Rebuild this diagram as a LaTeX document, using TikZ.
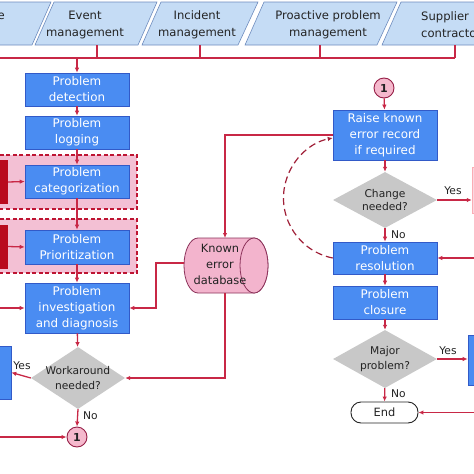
\documentclass[tikz,border=0pt]{standalone}
\usepackage{fontspec}
\setmainfont{DejaVu Sans}
\usetikzlibrary{shapes.geometric,arrows.meta}
\definecolor{linered}{RGB}{200,40,70}
\definecolor{boxblue}{RGB}{74,140,242}
\definecolor{boxedge}{RGB}{50,90,200}
\definecolor{parafill}{RGB}{197,220,245}
\definecolor{paraedge}{RGB}{110,140,190}
\definecolor{zonefill}{RGB}{243,192,212}
\definecolor{zoneedge}{RGB}{190,20,50}
\definecolor{circfill}{RGB}{245,185,205}
\definecolor{circedge}{RGB}{150,30,70}
\definecolor{dbfill}{RGB}{243,180,205}
\definecolor{dbedge}{RGB}{140,50,90}
\definecolor{decgrey}{RGB}{200,200,200}
\definecolor{barred}{RGB}{185,10,30}
\definecolor{lightpink}{RGB}{250,215,225}
\definecolor{darktext}{RGB}{35,35,35}
\begin{document}
\begin{tikzpicture}[x=1pt,y=-1pt,
  conn/.style={draw=linered, line width=1.3pt},
  arr/.style={conn, -{Latex[length=5pt,width=4.5pt]}},
  proc/.style={rectangle, fill=boxblue, draw=boxedge, line width=0.6pt, text=white, align=center, minimum width=104pt, inner sep=0pt, font=\fontsize{11.9}{16}\selectfont},
  para/.style={fill=parafill, draw=paraedge, line width=0.6pt},
  ptext/.style={align=center, text=darktext, inner sep=0pt, font=\fontsize{11.6}{17}\selectfont},
  dec/.style={diamond, fill=decgrey, inner sep=0pt},
  dtext/.style={align=center, text=darktext, inner sep=0pt, font=\fontsize{10.7}{15}\selectfont},
  lab/.style={text=darktext, inner sep=0pt, font=\fontsize{10.7}{12}\selectfont},
  conncirc/.style={circle, fill=circfill, draw=circedge, line width=0.9pt, minimum size=20pt, inner sep=0pt, text=darktext, font=\fontsize{11}{12}\selectfont\bfseries},
  zone/.style={fill=zonefill, draw=zoneedge, line width=1.2pt, dash pattern=on 4pt off 2.5pt},
  bar/.style={rectangle, fill=barred, draw=none, minimum width=10pt, minimum height=44pt, inner sep=0pt},
  termbox/.style={rectangle, rounded corners=10pt, fill=white, draw=darktext, line width=0.9pt, minimum width=67pt, minimum height=21pt, inner sep=0pt, text=darktext, font=\fontsize{11.4}{12}\selectfont},
  dbshape/.style={fill=dbfill, draw=dbedge, line width=0.8pt}
]
\useasboundingbox (0,0) rectangle (474,474);
\clip (0,0) rectangle (474,474);

% top inputs
\draw[para] (-100,45) -- (32,45) -- (51,2) -- (-80,2) -- cycle;
\node[ptext, anchor=east] (p0) at (5,16) {e};
\draw[para] (35,45) -- (138,45) -- (157,2) -- (54,2) -- cycle;
\node[ptext] (p1) at (85,24.5) {Event\\management};
\draw[para] (142,45) -- (238,45) -- (258,2) -- (161,2) -- cycle;
\node[ptext] (p2) at (197,24.5) {Incident\\management};
\draw[para] (245,45) -- (377,45) -- (397,2) -- (264,2) -- cycle;
\node[ptext] (p3) at (328,24.5) {Proactive problem\\management};
\draw[para] (382,45) -- (540,45) -- (560,2) -- (401,2) -- cycle;
\node[ptext, align=left, anchor=west] (p4) at (421,24.5) {Supplier\\contractors};

\coordinate (b1) at (97,45);  \coordinate (j1) at (97,58);
\coordinate (b2) at (200,45); \coordinate (j2) at (200,58);
\coordinate (b3) at (320,45); \coordinate (j3) at (320,58);
\coordinate (b4) at (455,45); \coordinate (j4) at (455,58);
\coordinate (j0) at (0,58);
\coordinate (jd) at (77,58);
\draw[conn] (j0) -- (j4);
\draw[conn] (b1) -- (j1);
\draw[conn] (b2) -- (j2);
\draw[conn] (b3) -- (j3);
\draw[conn] (b4) -- (j4);

% zones
\draw[zone] (-5,155) rectangle (137,209);
\draw[zone] (-5,219) rectangle (137,273);
\node[bar] (bar1) at (3,182) {};
\node[bar] (bar2) at (3,246.5) {};

% left column
\node[proc, minimum height=33pt] (det) at (77,89.5) {Problem\\detection};
\node[proc, minimum height=33pt] (log) at (77,132.5) {Problem\\logging};
\node[proc, minimum height=33pt] (cat) at (77,181.5) {Problem\\categorization};
\node[proc, minimum height=34pt] (pri) at (77,247) {Problem\\Prioritization};
\node[proc, minimum height=50pt] (inv) at (77,308) {Problem\\investigation\\and diagnosis};
\node[dec, minimum width=94pt, minimum height=62pt] (wa) at (78,378) {};
\node[dtext] (wat) at (wa) {Workaround\\needed?};
\node[proc, minimum width=16pt, minimum height=53pt] (wbox) at (3,372.5) {};
\node[conncirc] (c1) at (77,437) {1};

\draw[arr] (jd) -- (det.north);
\draw[arr] (det) -- (log);
\draw[arr] (log) -- (cat);
\draw[arr] (cat) -- (pri);
\draw[arr] (pri) -- (inv);
\draw[arr] (inv) -- (wa);
\draw[arr] (bar1.east) -- (cat.west);
\draw[arr] (bar2.east) -- (pri.west);
\coordinate (ininv) at (0,308);
\draw[arr] (ininv) -- (inv.west);
\draw[arr] (wa.west) -- (wbox.east);
\node[lab] (yes1) at (22,366) {Yes};
\draw[arr] (wa.south) -- (c1.north);
\node[lab, anchor=west] (no1) at (83,416) {No};
\coordinate (inc1) at (0,437);
\draw[arr] (inc1) -- (c1.west);

% known error database
\path[dbshape] (198,238) -- (254,238) arc[start angle=-90, end angle=90, x radius=14, y radius=27.5] -- (198,293) arc[start angle=90, end angle=270, x radius=14, y radius=27.5] -- cycle;
\draw[dbshape] (254,265.5) ellipse [x radius=14, y radius=27.5];
\node[ptext, font=\fontsize{11.4}{16}\selectfont] (db) at (220,264) {Known\\error\\database};
\coordinate (dbtop) at (225,238);
\coordinate (dbleft) at (184,263);
\coordinate (dbbot) at (225,293);
\coordinate (k1) at (156,263);

% right column
\node[conncirc] (c2) at (384,88) {1};
\node[proc, minimum height=50pt] (raise) at (385,135) {Raise known\\error record\\if required};
\node[dec, minimum width=104pt, minimum height=56pt] (ch) at (385,200) {};
\node[dtext, font=\fontsize{10.7}{13.5}\selectfont] (cht) at (ch) {Change\\needed?};
\node[rectangle, fill=lightpink, draw=lightpink!80!red, minimum width=20pt, minimum height=46pt] (chbox) at (482,190) {};
\node[proc, minimum height=32pt] (res) at (385,258) {Problem\\resolution};
\node[proc, minimum height=33pt] (clo) at (385,302.5) {Problem\\closure};
\node[dec, minimum width=104pt, minimum height=58pt] (maj) at (385,359) {};
\node[dtext] (majt) at (maj) {Major\\problem?};
\node[proc, minimum width=20pt, minimum height=50pt] (mbox) at (478,360) {};
\node[termbox] (end) at (384.5,412.5) {End};

\draw[arr] (c2) -- (raise);
\draw[arr] (raise) -- (ch);
\draw[arr] (ch.east) -- (chbox.west |- ch.east);
\node[lab] (yes2) at (453,191) {Yes};
\draw[arr] (ch) -- (res);
\node[lab, anchor=west] (no2) at (391,235) {No};
\coordinate (inres) at (474,258);
\draw[arr] (inres) -- (res.east);
\draw[arr] (res) -- (clo);
\draw[arr] (clo) -- (maj);
\draw[arr] (maj.east) -- (mbox.west |- maj.east);
\node[lab] (yes3) at (448,351) {Yes};
\draw[arr] (maj) -- (end);
\node[lab, anchor=west] (no3) at (391,394) {No};
\coordinate (inend) at (474,412.5);
\draw[arr] (inend) -- (end.east);

% database links
\draw[arr] (raise.west) -| (dbtop);
\draw[arr] (dbleft) -- (k1) |- (inv.east);
\draw[arr] (dbbot) |- (wa.east);
\draw[draw=linered!80!black, line width=1.2pt, dash pattern=on 7pt off 4pt, -{Latex[length=5pt,width=4.5pt]}] (res.west) arc[start angle=101.3, end angle=258.7, radius=61.2];
\end{tikzpicture}
\end{document}
